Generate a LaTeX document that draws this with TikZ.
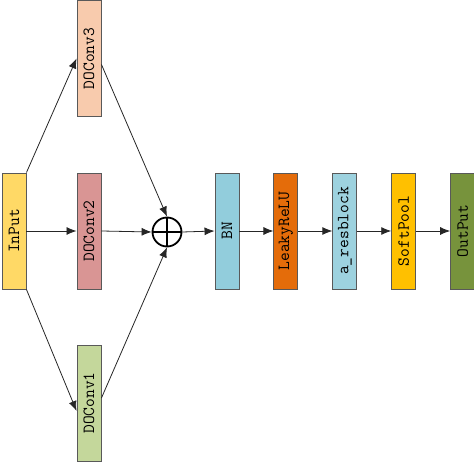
\documentclass[tikz,border=0pt]{standalone}
\usetikzlibrary{arrows.meta,positioning}

\definecolor{cInput}{HTML}{FFD966}
\definecolor{cConvA}{HTML}{C4D79B}
\definecolor{cConvB}{HTML}{D99594}
\definecolor{cConvC}{HTML}{F8CBAD}
\definecolor{cBN}{HTML}{92CDDC}
\definecolor{cRelu}{HTML}{E46C0A}
\definecolor{cRes}{HTML}{9DD2DF}
\definecolor{cPool}{HTML}{FFC000}
\definecolor{cOut}{HTML}{77933C}

\tikzset{
  block/.style={draw=black!65,line width=0.9pt,minimum width=24pt,minimum height=116pt,
    inner sep=0pt},
  lbl/.style={rotate=90,text=black,font=\ttfamily\fontsize{17}{18}\selectfont},
  sum/.style={circle,draw,line width=1.8pt,minimum size=29pt,inner sep=0pt},
  flow/.style={-{Latex[length=10pt,width=8pt]},line width=0.8pt,black!85}
}

\begin{document}
\begin{tikzpicture}[x=1pt,y=-1pt,node distance=34pt]
  \useasboundingbox (0,0) rectangle (474,462);
  \node[block,fill=cInput] (inp)  at (14,231) {};
  \node[lbl] at (inp) {InPut};
  \node[block,fill=cConvC] (doc3) at (89,58.5) {};
  \node[lbl] at (doc3) {DOConv3};
  \node[block,fill=cConvB] (doc2) at (89,231) {};
  \node[lbl] at (doc2) {DOConv2};
  \node[block,fill=cConvA] (doc1) at (89,403) {};
  \node[lbl] at (doc1) {DOConv1};
  \node[sum] (add) at (167,232) {};
  \draw[line width=1.8pt] (add.north) -- (add.south) (add.west) -- (add.east);

  \node[block,fill=cBN]   (bn)   at (227,231) {};
  \node[block,fill=cRelu] (relu) [right=of bn]   {};
  \node[block,fill=cRes]  (res)  [right=of relu] {};
  \node[block,fill=cPool] (pool) [right=of res]  {};
  \node[block,fill=cOut]  (out)  [right=of pool] {};
  \node[lbl] at (bn)   {BN};
  \node[lbl] at (relu) {LeakyReLU};
  \node[lbl] at (res)  {a\_resblock};
  \node[lbl] at (pool) {SoftPool};
  \node[lbl] at (out)  {OutPut};

  % branches
  \draw[flow] (inp.north east) -- (doc3.west);
  \draw[flow] (inp.east) -- (doc2.west);
  \draw[flow] (inp.south east) -- ([yshift=-8pt]doc1.west);
  \draw[flow] ([yshift=-6pt]doc3.east) -- (add.north);
  \draw[flow] (doc2.east) -- (add.west);
  \draw[flow] ([yshift=5pt]doc1.east) -- (add.south);

  % main chain
  \draw[flow] (add.east) -- (bn.west);
  \draw[flow] (bn.east) -- (relu.west);
  \draw[flow] (relu.east) -- (res.west);
  \draw[flow] (res.east) -- (pool.west);
  \draw[flow] (pool.east) -- (out.west);
\end{tikzpicture}
\end{document}
